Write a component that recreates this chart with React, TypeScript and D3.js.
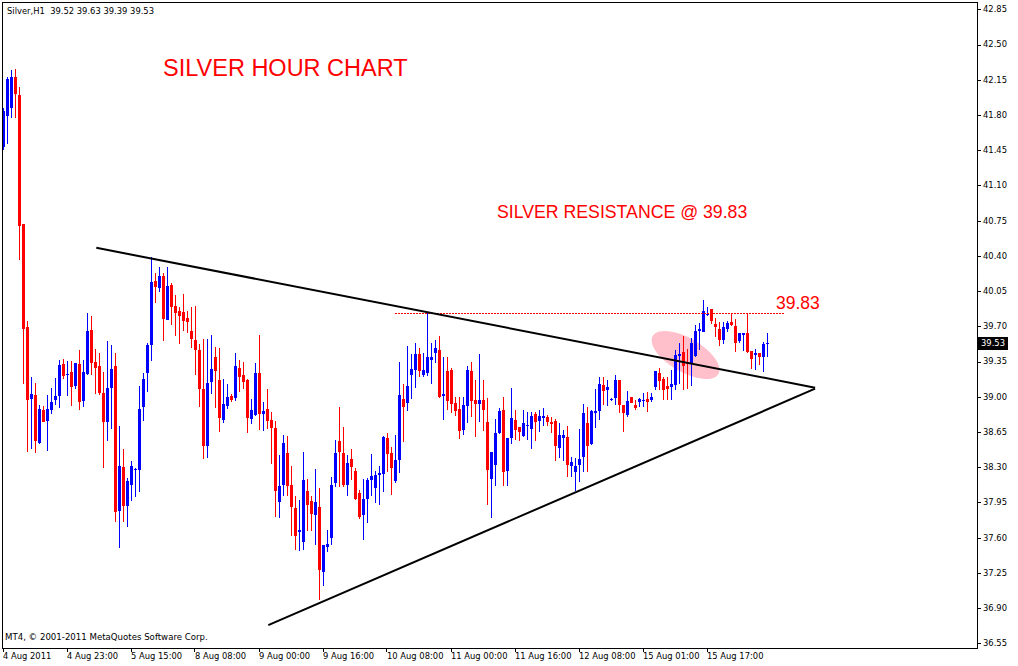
import React from "react";
import * as d3 from "d3";

const WIDTH = 1018;
const HEIGHT = 666;
const FRAME = { left: 2, top: 2, right: 977, bottom: 648 };
const AXIS_FONT = "DejaVu Sans, Tahoma, sans-serif";
const NOTE_FONT = "Liberation Sans, Arial, sans-serif";
const BULL = "#0000FF";
const BEAR = "#FF0000";

// hourly candles, 4 Aug 2011 07:00 onwards
const opens = [
  41.48, 41.79, 41.87, 42.18, 42.0, 40.72, 39.69, 38.98, 39.02, 38.54,
  38.87, 38.76, 38.87, 38.97, 39.01, 39.33, 39.22, 39.25, 39.11, 39.33,
  38.96, 39.23, 39.66, 39.35, 39.31, 39.04, 38.75, 39.09, 39.31, 37.86,
  38.3, 37.91, 38.12, 38.27, 38.27, 38.9, 39.24, 39.51, 40.15, 40.08,
  40.2, 39.76, 40.11, 39.9, 39.85, 39.84, 39.78, 39.65, 39.56, 39.46,
  39.08, 38.51, 39.15, 39.39, 39.17, 38.77, 38.91, 39.01, 38.99, 39.29,
  39.22, 39.17, 38.78, 38.82, 39.24, 38.83, 38.88, 38.77, 38.69, 37.95,
  38.12, 38.44, 38.12, 37.89, 37.66, 37.56, 38.06, 37.96, 37.82, 37.9,
  37.26, 37.51, 37.6, 38.14, 38.56, 38.44, 38.12, 38.38, 38.26, 38.04,
  37.82, 37.98, 38.17, 38.09, 38.22, 38.23, 38.59, 38.44, 38.16, 38.37,
  38.98, 38.94, 39.22, 39.27, 39.42, 39.22, 39.24, 39.37, 39.43, 39.46,
  39.01, 39.26, 39.27, 38.94, 38.88, 38.67, 38.91, 39.26, 38.97, 38.93,
  38.97, 38.75, 38.18, 38.32, 38.64, 38.87, 38.26, 38.59, 38.77, 38.7,
  38.61, 38.71, 38.68, 38.83, 38.76, 38.79, 38.8, 38.75, 38.76, 38.49,
  38.59, 38.6, 38.31, 38.25, 38.32, 38.4, 38.74, 38.53, 38.84, 38.86,
  39.12, 39.07, 38.97, 38.99, 39.17, 38.92, 38.82, 39.0, 38.92, 38.95,
  38.96, 38.98, 38.97, 39.1, 39.24, 39.18, 39.11, 39.1, 39.12, 39.4,
  39.44, 39.35, 39.33, 39.4, 39.65, 39.64, 39.81, 39.87, 39.72, 39.67,
  39.56, 39.67, 39.74, 39.7, 39.55, 39.61, 39.63, 39.45, 39.41, 39.43,
  39.39, 39.52,
];

const highs = [
  41.87, 42.18, 42.25, 42.26, 42.08, 40.72, 39.75, 39.2, 39.14, 38.92,
  38.91, 39.02, 39.09, 39.19, 39.37, 39.38, 39.36, 39.36, 39.34, 39.46,
  39.37, 39.83, 39.8, 39.47, 39.43, 39.25, 39.55, 39.51, 39.43, 38.71,
  38.48, 38.19, 38.36, 38.29, 39.11, 39.24, 39.53, 40.39, 40.23, 40.29,
  40.23, 40.29, 40.13, 40.01, 39.89, 40.02, 39.85, 39.89, 39.9, 39.52,
  39.57, 39.57, 39.61, 39.49, 39.48, 39.18, 39.13, 39.03, 39.43, 39.37,
  39.35, 39.18, 38.98, 39.34, 39.61, 38.95, 39.08, 38.85, 38.76, 38.42,
  38.62, 38.61, 38.31, 38.01, 37.97, 38.45, 38.18, 38.01, 38.28, 38.09,
  37.53, 37.68, 38.2, 38.57, 38.9, 38.7, 38.42, 38.48, 38.29, 38.07,
  38.18, 38.19, 38.43, 38.26, 38.31, 38.61, 38.64, 38.5, 38.62, 39.35,
  39.13, 39.5, 39.42, 39.53, 39.48, 39.43, 39.83, 39.53, 39.56, 39.6,
  39.39, 39.39, 39.29, 39.0, 39.0, 39.0, 39.31, 39.35, 39.17, 39.42,
  39.17, 38.99, 38.45, 38.78, 38.89, 39.0, 38.59, 39.09, 38.87, 38.7,
  38.87, 38.85, 38.85, 38.85, 38.87, 38.89, 38.82, 38.8, 38.78, 38.74,
  38.67, 38.71, 38.4, 38.39, 38.68, 38.93, 38.9, 38.87, 39.08, 39.2,
  39.2, 39.17, 38.99, 39.22, 39.17, 38.92, 39.06, 39.0, 38.97, 38.99,
  39.04, 39.05, 39.04, 39.26, 39.29, 39.2, 39.2, 39.27, 39.46, 39.53,
  39.6, 39.47, 39.58, 39.71, 39.73, 39.96, 39.89, 39.87, 39.78, 39.74,
  39.74, 39.75, 39.83, 39.77, 39.63, 39.63, 39.83, 39.45, 39.47, 39.43,
  39.54, 39.63,
];

const lows = [
  41.45, 41.51, 41.77, 41.77, 40.36, 39.13, 38.45, 38.48, 38.44, 38.53,
  38.75, 38.46, 38.83, 38.92, 38.89, 39.18, 39.01, 38.91, 39.08, 38.87,
  38.9, 39.22, 39.22, 39.03, 39.02, 38.29, 38.56, 38.68, 37.76, 37.5,
  37.76, 37.71, 37.96, 38.0, 38.05, 38.76, 39.05, 39.36, 39.93, 40.04,
  39.55, 39.76, 39.71, 39.6, 39.52, 39.65, 39.63, 39.48, 39.22, 38.9,
  38.38, 38.39, 39.03, 38.89, 38.65, 38.74, 38.88, 38.95, 38.96, 39.05,
  39.08, 38.64, 38.73, 38.81, 38.67, 38.66, 38.68, 38.33, 37.81, 37.8,
  38.01, 38.01, 37.62, 37.48, 37.47, 37.48, 37.67, 37.67, 37.53, 36.98,
  37.12, 37.46, 37.53, 38.1, 38.1, 38.1, 38.01, 38.17, 37.97, 37.79,
  37.58, 37.75, 38.01, 37.94, 37.92, 38.05, 38.25, 38.02, 38.14, 38.24,
  38.55, 38.86, 38.98, 39.09, 39.2, 39.2, 39.21, 39.13, 39.34, 38.99,
  38.77, 38.87, 38.84, 38.81, 38.58, 38.62, 38.74, 38.8, 38.6, 38.75,
  38.66, 37.92, 37.8, 38.11, 38.63, 38.11, 38.11, 38.53, 38.57, 38.56,
  38.6, 38.57, 38.48, 38.56, 38.65, 38.71, 38.71, 38.64, 38.36, 38.39,
  38.36, 38.2, 38.2, 38.06, 38.15, 38.25, 38.25, 38.52, 38.69, 38.77,
  38.92, 38.91, 38.96, 38.92, 38.84, 38.65, 38.8, 38.94, 38.87, 38.9,
  38.9, 38.85, 38.95, 39.07, 39.07, 38.97, 38.97, 38.97, 39.07, 39.13,
  39.07, 39.08, 39.11, 39.39, 39.46, 39.64, 39.8, 39.72, 39.59, 39.5,
  39.52, 39.64, 39.7, 39.44, 39.53, 39.45, 39.43, 39.28, 39.27, 39.32,
  39.25, 39.39,
];

const closes = [
  41.84, 42.16, 42.18, 42.01, 40.7, 39.67, 38.97, 39.03, 38.56, 38.88,
  38.75, 38.88, 38.95, 39.01, 39.32, 39.21, 39.23, 39.1, 39.34, 38.95,
  39.25, 39.65, 39.34, 39.29, 39.04, 38.75, 39.09, 39.28, 37.85, 38.31,
  37.91, 38.16, 38.31, 38.28, 38.88, 39.18, 39.51, 40.14, 40.09, 40.2,
  39.77, 40.1, 39.89, 39.83, 39.8, 39.75, 39.74, 39.57, 39.46, 39.08,
  38.51, 39.14, 39.28, 39.26, 38.79, 38.93, 39.0, 38.97, 39.31, 39.2,
  39.15, 38.79, 38.87, 39.24, 38.83, 38.86, 38.76, 38.69, 38.06, 38.11,
  38.54, 38.11, 37.9, 37.62, 37.68, 38.17, 37.92, 37.83, 37.95, 37.28,
  37.53, 37.54, 38.12, 38.44, 38.45, 38.12, 38.34, 38.3, 37.98, 37.81,
  37.98, 38.17, 38.21, 38.22, 38.24, 38.6, 38.43, 38.29, 38.37, 39.02,
  38.9, 39.11, 39.28, 39.42, 39.26, 39.27, 39.39, 39.39, 39.48, 39.0,
  39.03, 38.96, 38.93, 38.86, 38.66, 38.92, 39.27, 38.96, 38.93, 38.97,
  38.87, 38.27, 38.45, 38.64, 38.86, 38.25, 38.59, 38.79, 38.67, 38.65,
  38.74, 38.72, 38.81, 38.75, 38.81, 38.81, 38.75, 38.73, 38.51, 38.62,
  38.62, 38.32, 38.35, 38.31, 38.38, 38.84, 38.51, 38.86, 38.86, 39.13,
  39.06, 39.1, 38.98, 39.17, 38.92, 38.84, 38.96, 38.94, 38.89, 38.98,
  38.97, 38.95, 39.0, 39.26, 39.16, 39.07, 39.08, 39.13, 39.41, 39.42,
  39.31, 39.33, 39.53, 39.65, 39.67, 39.85, 39.82, 39.75, 39.69, 39.56,
  39.69, 39.73, 39.71, 39.53, 39.63, 39.63, 39.44, 39.38, 39.43, 39.39,
  39.52, 39.53,
];

const timeLabels = [
  { bar: 0, text: "4 Aug 2011" },
  { bar: 16, text: "4 Aug 23:00" },
  { bar: 32, text: "5 Aug 15:00" },
  { bar: 48, text: "8 Aug 08:00" },
  { bar: 64, text: "9 Aug 00:00" },
  { bar: 80, text: "9 Aug 16:00" },
  { bar: 96, text: "10 Aug 08:00" },
  { bar: 112, text: "11 Aug 00:00" },
  { bar: 128, text: "11 Aug 16:00" },
  { bar: 144, text: "12 Aug 08:00" },
  { bar: 160, text: "15 Aug 01:00" },
  { bar: 176, text: "15 Aug 17:00" },
];

const priceTicks = [
  42.85, 42.5, 42.15, 41.8, 41.45, 41.1, 40.75, 40.4, 40.05, 39.7, 39.35,
  39.0, 38.65, 38.3, 37.95, 37.6, 37.25, 36.9, 36.55,
];

// drawn objects (bar index, price)
const upperTrend = [
  { bar: 23.2, price: 40.48 },
  { bar: 202.9, price: 39.09 },
];
const lowerTrend = [
  { bar: 66.2, price: 36.73 },
  { bar: 202.9, price: 39.08 },
];
const resistance = { from: 97.9, to: 194.9, price: 39.83 };
const highlight = { bar: 170.5, price: 39.415 };

const header = "Silver,H1  39.52 39.63 39.39 39.53";
const lastPrice = 39.53;

export default function App() {
  const x = d3.scaleLinear().domain([0, 191]).range([3.5, 767.5]);
  const y = d3.scaleLinear().domain([36.55, 42.85]).range([643.3, 9.3]);
  const line = d3
    .line<{ bar: number; price: number }>()
    .x((d) => x(d.bar))
    .y((d) => y(d.price));

  const candles = opens.map((o, i) => ({
    i,
    o,
    h: highs[i],
    l: lows[i],
    c: closes[i],
  }));

  // dotted resistance line drawn as little dashes
  const resY = Math.round(y(resistance.price));
  const dashStarts = d3.range(
    Math.round(x(resistance.from)),
    x(resistance.to),
    3
  );

  return (
    <svg
      width={WIDTH}
      height={HEIGHT}
      style={{ position: "absolute", left: 0, top: 0, background: "#fff" }}
    >
      <rect width={WIDTH} height={HEIGHT} fill="#fff" />

      {/* highlight ellipse sits behind the candles */}
      <ellipse
        cx={x(highlight.bar)}
        cy={y(highlight.price)}
        rx={38}
        ry={17}
        fill="#FFC0CB"
        transform={`rotate(30 ${x(highlight.bar)} ${y(highlight.price)})`}
      />

      <g shapeRendering="crispEdges">
        {candles.map((d) => {
          const color = d.c >= d.o ? BULL : BEAR;
          const cx = x(d.i);
          const top = y(Math.max(d.o, d.c));
          const bh = Math.max(1, Math.abs(y(d.o) - y(d.c)));
          return (
            <g key={d.i}>
              <rect
                x={cx - 0.5}
                y={y(d.h)}
                width={1}
                height={Math.max(1, y(d.l) - y(d.h))}
                fill={color}
              />
              <rect x={cx - 1.5} y={top} width={3} height={bh} fill={color} />
            </g>
          );
        })}
      </g>

      {/* resistance level */}
      <g fill={BEAR} shapeRendering="crispEdges">
        {dashStarts.map((s) => (
          <rect key={s} x={s} y={resY} width={2} height={1} />
        ))}
      </g>

      {/* triangle */}
      <path d={line(upperTrend) || ""} stroke="#000" strokeWidth={2} fill="none" />
      <path d={line(lowerTrend) || ""} stroke="#000" strokeWidth={2} fill="none" />

      {/* notes */}
      <text x={163} y={76} fontFamily={NOTE_FONT} fontSize={23.5} fill={BEAR}>
        SILVER HOUR CHART
      </text>
      <text x={497} y={217.5} fontFamily={NOTE_FONT} fontSize={17.7} fill={BEAR}>
        SILVER RESISTANCE @ 39.83
      </text>
      <text x={776} y={309.3} fontFamily={NOTE_FONT} fontSize={17.5} fill={BEAR}>
        39.83
      </text>

      {/* frame */}
      <rect
        x={FRAME.left + 0.5}
        y={FRAME.top + 0.5}
        width={FRAME.right - FRAME.left}
        height={FRAME.bottom - FRAME.top}
        fill="none"
        stroke="#000"
        shapeRendering="crispEdges"
      />

      <text
        x={7}
        y={13.5}
        fontFamily={AXIS_FONT}
        fontSize={8.4}
        fill="#000"
        style={{ whiteSpace: "pre" }}
      >
        {header}
      </text>
      <text x={5} y={640} fontFamily={AXIS_FONT} fontSize={8.6} fill="#000">
        MT4, © 2001-2011 MetaQuotes Software Corp.
      </text>

      {/* price axis */}
      <g fontFamily={AXIS_FONT} fontSize={8.4} fill="#000">
        {priceTicks.map((p) => (
          <g key={p}>
            <line
              x1={FRAME.right}
              x2={FRAME.right + 4}
              y1={Math.round(y(p)) + 0.5}
              y2={Math.round(y(p)) + 0.5}
              stroke="#000"
              shapeRendering="crispEdges"
            />
            <text x={983} y={y(p)} dy="0.35em">
              {p.toFixed(2)}
            </text>
          </g>
        ))}
      </g>
      <rect
        x={978}
        y={y(lastPrice) - 6.5}
        width={30}
        height={13}
        fill="#000"
        shapeRendering="crispEdges"
      />
      <text
        x={981}
        y={y(lastPrice)}
        dy="0.35em"
        fontFamily={AXIS_FONT}
        fontSize={8.4}
        fill="#fff"
      >
        {lastPrice.toFixed(2)}
      </text>

      {/* time axis */}
      <g fontFamily={AXIS_FONT} fontSize={8.4} fill="#000">
        {timeLabels.map((t) => (
          <g key={t.bar}>
            <line
              x1={Math.round(x(t.bar)) - 0.5}
              x2={Math.round(x(t.bar)) - 0.5}
              y1={FRAME.bottom}
              y2={FRAME.bottom + 4}
              stroke="#000"
              shapeRendering="crispEdges"
            />
            <text x={x(t.bar) - 0.5} y={658.5}>
              {t.text}
            </text>
          </g>
        ))}
      </g>
    </svg>
  );
}
